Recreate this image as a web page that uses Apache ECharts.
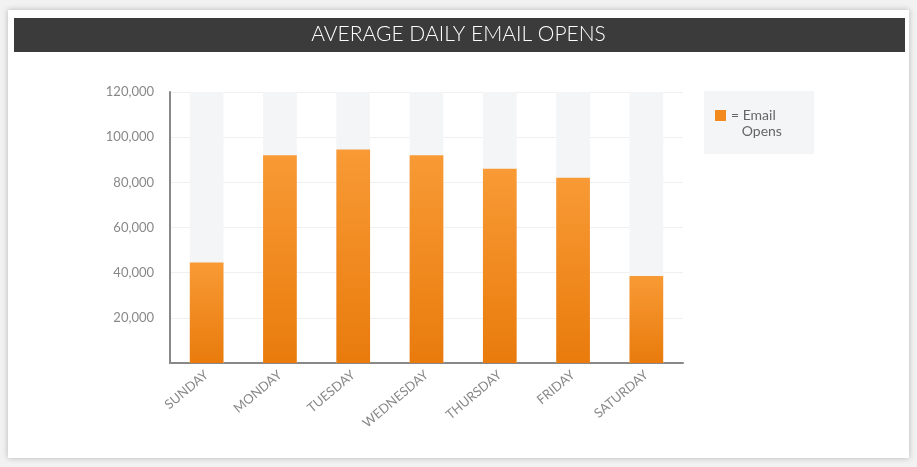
<!DOCTYPE html>
<html>
<head>
<meta charset="utf-8">
<script src="https://cdn.jsdelivr.net/npm/echarts@6/dist/echarts.min.js"></script>
<style>
  body { margin: 0; background: #f2f2f2; }
  .card { position: absolute; left: 8px; top: 10px; width: 901px; height: 448px; background: #fff; box-shadow: 0 0 6px rgba(0,0,0,0.25); }
  .chart { position: absolute; left: 0; top: 0; width: 917px; height: 467px; }
</style>
</head>
<body>
<div class="card"></div>
<div class="chart"></div>
<script>
var days = ['SUNDAY', 'MONDAY', 'TUESDAY', 'WEDNESDAY', 'THURSDAY', 'FRIDAY', 'SATURDAY'];
var opens = [44500, 92000, 94500, 92000, 86000, 82000, 38500];
var yTicks = [20000, 40000, 60000, 80000, 100000, 120000];

var myChart = echarts.init(document.querySelector('.chart'));
var option = {
    graphic: [
        { type: 'rect', shape: { x: 14, y: 18, width: 891, height: 34 }, style: { fill: '#3b3b3b' } },
        { type: 'text', left: 'center', top: 24, style: { text: 'AVERAGE DAILY EMAIL OPENS', fill: '#fff', font: '300 21px Lato', letterSpacing: 1 } },
        { type: 'rect', shape: { x: 704, y: 91, width: 110, height: 63 }, style: { fill: '#f4f5f7' } },
        { type: 'rect', shape: { x: 715, y: 110, width: 11, height: 11 }, style: { fill: '#f28a1e' } },
        { type: 'text', left: 731, top: 107, style: { text: '= Email\n   Opens', fill: '#666', font: '14px Lato', lineHeight: 16 } }
    ],
    grid: { left: 170, right: 234, top: 92, bottom: 104 },
    xAxis: {
        type: 'category',
        data: days,
        axisLine: { lineStyle: { color: '#888', width: 2 } },
        axisTick: { show: false },
        axisLabel: { rotate: 40, color: '#888', fontFamily: 'Lato', fontSize: 13, margin: 10 }
    },
    yAxis: {
        type: 'value',
        min: 0, max: 120000, interval: 20000,
        axisLine: { show: true, lineStyle: { color: '#888', width: 2 } },
        splitLine: { lineStyle: { color: '#f0f0f0' } },
        axisLabel: {
            color: '#888', fontFamily: 'Lato', fontSize: 13, margin: 16,
            formatter: function (v) { return yTicks.indexOf(v) >= 0 ? v.toLocaleString('en-US') : ''; }
        }
    },
    series: [{
        type: 'bar',
        data: opens,
        barWidth: '46%',
        showBackground: true,
        backgroundStyle: { color: '#f4f5f7' },
        itemStyle: {
            color: new echarts.graphic.LinearGradient(0, 0, 0, 1, [
                { offset: 0, color: '#f89a35' },
                { offset: 1, color: '#e97b0c' }
            ])
        }
    }]
};
myChart.setOption(option);
</script>
</body>
</html>
